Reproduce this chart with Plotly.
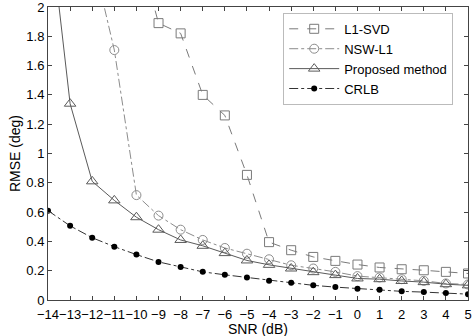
import plotly.graph_objects as go

l1svd_x = list(range(-10, 6))
l1svd = [2.45, 1.89, 1.82, 1.40, 1.26, 0.854, 0.395, 0.34, 0.294, 0.267, 0.242, 0.222, 0.21, 0.203, 0.192, 0.181]

nsw_x = list(range(-12, 6))
nsw = [2.35, 1.706, 0.716, 0.576, 0.48, 0.41, 0.355, 0.316, 0.278, 0.237, 0.215, 0.192, 0.163, 0.154, 0.142, 0.131, 0.113, 0.106]

prop_x = list(range(-14, 6))
prop = [2.66, 1.34, 0.81, 0.68, 0.565, 0.48, 0.41, 0.37, 0.32, 0.27, 0.24, 0.215, 0.19, 0.17, 0.147, 0.142, 0.13, 0.122, 0.108, 0.1]

crlb_x = list(range(-14, 6))
crlb = [0.61, 0.506, 0.425, 0.364, 0.31, 0.26, 0.226, 0.192, 0.172, 0.154, 0.131, 0.117, 0.1, 0.088, 0.077, 0.07, 0.059, 0.054, 0.047, 0.04]

x_ticks = list(range(-14, 6))
y_ticks = [0, 0.2, 0.4, 0.6, 0.8, 1.0, 1.2, 1.4, 1.6, 1.8, 2.0]
y_labels = ["0", "0.2", "0.4", "0.6", "0.8", "1", "1.2", "1.4", "1.6", "1.8", "2"]

fig = go.Figure()
fig.add_trace(go.Scatter(x=l1svd_x, y=l1svd, name="L1-SVD", mode="lines+markers",
                         line=dict(color="#7a7a7a", width=1, dash="dash"),
                         marker=dict(symbol="square-open", size=9, color="#7a7a7a", line=dict(width=1))))
fig.add_trace(go.Scatter(x=nsw_x, y=nsw, name="NSW-L1", mode="lines+markers",
                         line=dict(color="#8c8c8c", width=1, dash="dashdot"),
                         marker=dict(symbol="circle-open", size=9, color="#8c8c8c", line=dict(width=1))))
fig.add_trace(go.Scatter(x=prop_x, y=prop, name="Proposed method", mode="lines+markers",
                         line=dict(color="#5a5a5a", width=1),
                         marker=dict(symbol="triangle-up-open", size=10, color="#5a5a5a", line=dict(width=1))))
fig.add_trace(go.Scatter(x=crlb_x, y=crlb, name="CRLB", mode="lines+markers",
                         line=dict(color="#333333", width=1, dash="dashdot"),
                         marker=dict(symbol="circle", size=6, color="black")))

axis_font = dict(family="Liberation Sans, Arial", size=13, color="black")
fig.update_layout(
    width=474, height=336,
    margin=dict(l=48, r=6, t=7, b=36),
    paper_bgcolor="white", plot_bgcolor="white",
    font=axis_font,
    showlegend=True,
    legend=dict(x=0.56, y=0.98, xanchor="left", yanchor="top",
                bgcolor="white", bordercolor="#bbbbbb", borderwidth=1,
                font=dict(family="Liberation Sans, Arial", size=13, color="black"),
                tracegroupgap=0, itemwidth=50),
)
fig.add_annotation(text="SNR (dB)", xref="paper", yref="paper", x=0.5, y=0,
                   xanchor="center", yanchor="top", yshift=-19, showarrow=False,
                   font=dict(family="Liberation Sans, Arial", size=14, color="black"))
fig.update_xaxes(range=[-14, 5], tickvals=x_ticks, ticks="inside", ticklen=4, tickangle=0,
                 showline=True, linecolor="#444444", mirror="allticks", showgrid=False,
                 zeroline=False,
                 tickfont=axis_font, ticklabeloverflow="allow", automargin=False,
                 ticklabelstandoff=2)
fig.update_yaxes(range=[0, 2], tickvals=y_ticks, ticktext=y_labels, ticks="inside", ticklen=4,
                 showline=True, linecolor="#444444", mirror="allticks", showgrid=False,
                 zeroline=False, title=dict(text="RMSE (deg)", standoff=2, font=dict(size=14)),
                 tickfont=axis_font, ticklabeloverflow="allow", automargin=False)

fig.write_html("out.html")
